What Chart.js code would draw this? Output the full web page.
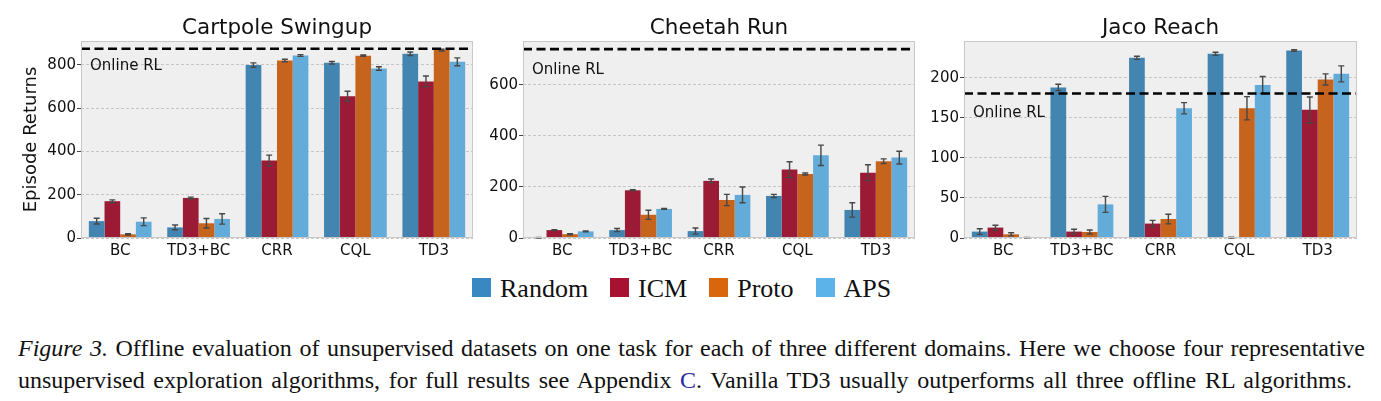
<!DOCTYPE html>
<html>
<head>
<meta charset="utf-8">
<script src="https://cdn.jsdelivr.net/npm/chart.js@4.4.1/dist/chart.umd.min.js"></script>
<style>
  body { margin: 0; width: 1381px; height: 401px; background: #fff; position: relative; overflow: hidden; }
  canvas { position: absolute; top: 0; }
  #legend { position: absolute; left: 472px; top: 274px; font: 26px/30px "Liberation Serif"; white-space: nowrap; color: #111; }
  #legend .sw { display: inline-block; width: 19px; height: 19px; margin-right: 9px; vertical-align: baseline; }
  #legend .item { margin-right: 22px; }
  #caption { position: absolute; left: 18px; top: 332px; font: 24px/32px "Liberation Serif"; color: #111; }
  #caption .l1 { width: 1347px; text-align: justify; text-align-last: justify; white-space: nowrap; }
  #caption .l2 { width: 1334px; text-align: justify; text-align-last: justify; white-space: nowrap; }
</style>
</head>
<body>
<canvas id="cartpole" width="480" height="270" style="left:0px"></canvas>
<canvas id="cheetah" width="440" height="270" style="left:480px"></canvas>
<canvas id="jaco" width="461" height="270" style="left:920px"></canvas>
<div id="legend"></div>
<div id="caption">
  <div class="l1"><i>Figure 3.</i> Offline evaluation of unsupervised datasets on one task for each of three different domains. Here we choose four representative</div>
  <div class="l2">unsupervised exploration algorithms, for full results see Appendix <span style="color:#2a2a9c">C</span>. Vanilla TD3 usually outperforms all three offline RL algorithms.</div>
</div>
<script>
const methods = ['BC', 'TD3+BC', 'CRR', 'CQL', 'TD3'];
const agents = ['Random', 'ICM', 'Proto', 'APS'];
const barColors = ['#4385b1', '#9b1a35', '#c6641d', '#63acd9'];
const legendColors = ['#3a88c2', '#a6122f', '#d9650c', '#5cb3e9'];

// Cartpole Swingup
const cartpoleRandom = [78, 49, 799, 809, 851];
const cartpoleICM = [170, 185, 358, 655, 723];
const cartpoleProto = [17, 68, 820, 842, 868];
const cartpoleAPS = [75, 88, 843, 783, 814];
const cartpoleRandomErr = [13, 11, 10, 6, 8];
const cartpoleICMErr = [6, 4, 25, 23, 25];
const cartpoleProtoErr = [3, 22, 6, 3, 4];
const cartpoleAPSErr = [18, 24, 4, 8, 18];
const cartpoleOnline = 874;
const cartpoleTicks = [0, 200, 400, 600, 800];

// Cheetah Run
const cheetahRandom = [1, 31, 27, 165, 110];
const cheetahICM = [31, 187, 224, 268, 256];
const cheetahProto = [15, 91, 149, 251, 301];
const cheetahAPS = [26, 114, 169, 324, 315];
const cheetahRandomErr = [1, 6, 12, 6, 28];
const cheetahICMErr = [2, 2, 7, 31, 31];
const cheetahProtoErr = [2, 18, 22, 4, 9];
const cheetahAPSErr = [2, 2, 31, 40, 25];
const cheetahOnline = 740;
const cheetahTicks = [0, 200, 400, 600];

// Jaco Reach
const jacoRandom = [8, 188, 225, 230, 234];
const jacoICM = [13, 8, 18, 0.5, 160];
const jacoProto = [4.6, 7.5, 23.7, 162, 198];
const jacoAPS = [0.5, 42, 162, 191, 205];
const jacoRandomErr = [3.5, 4, 2, 2, 1];
const jacoICMErr = [3, 3, 4, 0.5, 16];
const jacoProtoErr = [2, 2.5, 6, 14.5, 7];
const jacoAPSErr = [0.3, 10, 7, 10.6, 10];
const jacoOnline = 180.5;
const jacoTicks = [0, 50, 100, 150, 200];

// background, error bars, online RL line, frame and panel title
const panelDecor = {
  id: 'panelDecor',
  beforeDraw(chart) {
    const { ctx, chartArea: a } = chart;
    ctx.save();
    ctx.fillStyle = '#efefef';
    ctx.fillRect(a.left, a.top, a.width, a.height);
    ctx.restore();
  },
  afterDatasetsDraw(chart) {
    const { ctx } = chart;
    const y = chart.scales.y;
    ctx.save();
    ctx.strokeStyle = '#474747';
    ctx.lineWidth = 1.4;
    chart.data.datasets.forEach((ds, i) => {
      chart.getDatasetMeta(i).data.forEach((bar, j) => {
        const v = ds.data[j], e = ds.errorBars[j];
        const y1 = y.getPixelForValue(v - e), y2 = y.getPixelForValue(v + e);
        ctx.beginPath();
        ctx.moveTo(bar.x, y1); ctx.lineTo(bar.x, y2);
        ctx.moveTo(bar.x - 3, y1); ctx.lineTo(bar.x + 3, y1);
        ctx.moveTo(bar.x - 3, y2); ctx.lineTo(bar.x + 3, y2);
        ctx.stroke();
      });
    });
    ctx.restore();
  },
  afterDraw(chart, args, opts) {
    const { ctx, chartArea: a } = chart;
    const ly = chart.scales.y.getPixelForValue(opts.online);
    ctx.save();
    ctx.strokeStyle = '#000';
    ctx.lineWidth = 2.6;
    ctx.setLineDash([9, 4.5]);
    ctx.beginPath();
    ctx.moveTo(a.left, ly); ctx.lineTo(a.right, ly);
    ctx.stroke();
    ctx.setLineDash([]);
    ctx.strokeStyle = '#c8c8c8';
    ctx.lineWidth = 1;
    ctx.strokeRect(a.left + 0.5, a.top + 0.5, a.width - 1, a.height - 1);
    ctx.fillStyle = '#111';
    ctx.font = '15px "DejaVu Sans"';
    ctx.textBaseline = 'middle';
    ctx.textAlign = 'left';
    ctx.fillText('Online RL', a.left + 9, ly + opts.labelDy);
    ctx.font = '21.5px "DejaVu Sans"';
    ctx.textBaseline = 'alphabetic';
    ctx.textAlign = 'center';
    ctx.fillText(opts.title, (a.left + a.right) / 2, 34);
    ctx.restore();
  }
};

function makePanel(id, title, series, errs, online, labelDy, yMax, ticks, yWidth, padRight, yTitle) {
  new Chart(document.getElementById(id), {
    type: 'bar',
    data: {
      labels: methods,
      datasets: agents.map((name, i) => ({
        label: name,
        data: series[i],
        errorBars: errs[i],
        backgroundColor: barColors[i],
        borderWidth: 0,
        categoryPercentage: 0.8,
        barPercentage: 1.0
      }))
    },
    options: {
      responsive: false,
      animation: false,
      devicePixelRatio: 1,
      layout: { padding: { left: 0, right: padRight, top: 41, bottom: 0 } },
      plugins: {
        legend: { display: false },
        tooltip: { enabled: false },
        panelDecor: { title: title, online: online, labelDy: labelDy }
      },
      scales: {
        x: {
          grid: { display: false, drawTicks: false },
          border: { display: false },
          ticks: { color: '#111', font: { family: 'DejaVu Sans', size: 15 }, padding: 4, autoSkip: false, maxRotation: 0 },
          afterFit: s => { s.height = 32; }
        },
        y: {
          min: 0,
          max: yMax,
          z: 1,
          afterBuildTicks: s => { s.ticks = ticks.map(v => ({ value: v })); },
          afterFit: s => { s.width = yWidth; },
          grid: { color: '#c6c6c6', lineWidth: 1, tickColor: '#444', tickLength: 4 },
          border: { display: false, dash: [3, 2] },
          ticks: { color: '#111', font: { family: 'DejaVu Sans', size: 15 }, padding: 1 },
          title: {
            display: !!yTitle,
            text: yTitle,
            color: '#111',
            font: { family: 'DejaVu Sans', size: 18 },
            padding: { top: 21, bottom: 0 }
          }
        }
      }
    },
    plugins: [panelDecor]
  });
}

makePanel('cartpole', 'Cartpole Swingup',
  [cartpoleRandom, cartpoleICM, cartpoleProto, cartpoleAPS],
  [cartpoleRandomErr, cartpoleICMErr, cartpoleProtoErr, cartpoleAPSErr],
  cartpoleOnline, 17, 910, cartpoleTicks, 81, 7, 'Episode Returns');
makePanel('cheetah', 'Cheetah Run',
  [cheetahRandom, cheetahICM, cheetahProto, cheetahAPS],
  [cheetahRandomErr, cheetahICMErr, cheetahProtoErr, cheetahAPSErr],
  cheetahOnline, 21, 772, cheetahTicks, 43, 5, '');
makePanel('jaco', 'Jaco Reach',
  [jacoRandom, jacoICM, jacoProto, jacoAPS],
  [jacoRandomErr, jacoICMErr, jacoProtoErr, jacoAPSErr],
  jacoOnline, 20, 246, jacoTicks, 44, 24, '');

// shared legend
const legend = document.getElementById('legend');
agents.forEach((name, i) => {
  const item = document.createElement('span');
  item.className = 'item';
  item.innerHTML = '<span class="sw" style="background:' + legendColors[i] + '"></span>' + name;
  legend.appendChild(item);
});
</script>
</body>
</html>
